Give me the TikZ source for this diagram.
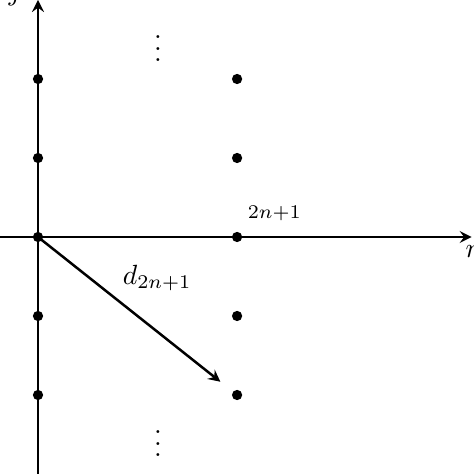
\documentclass[tikz,border=0pt]{standalone}
\usepackage{tikz}
\begin{document}
\begin{tikzpicture}[line width=0.9pt,>=stealth] % [1]{-0.48}{5.52}{-3}{3}
   \useasboundingbox (-0.481,-3.0) rectangle (5.519,3.0);
   \clip (-0.481,-3.0) rectangle (5.519,3.0);
   \coordinate (o) at (0,0);
   \coordinate (xs) at (-0.7,0);
   \coordinate (xe) at (5.49,0);
   \coordinate (ys) at (0,-3.3);
   \coordinate (ye) at (0,3.0);
   \coordinate (q) at (2.52,-2.0);
   \draw[->] (xs) -- (xe);
   \draw[->] (ys) -- (ye);
   \fill (0,2.0) circle(0.065);
   \fill (0,1.0) circle(0.065);
   \fill (o) circle(0.065);
   \fill (0,-1.0) circle(0.065);
   \fill (0,-2.0) circle(0.065);
   \fill (2.52,2.0) circle(0.065);
   \fill (2.52,1.0) circle(0.065);
   \fill (2.52,0.0) circle(0.065);
   \fill (2.52,-1.0) circle(0.065);
   \fill (q) circle(0.065);
   \draw[->,shorten >=0.27cm] (o) -- (q);
   \draw (-0.29,3.08) node (j) {$j$};
   \draw (5.52,-0.19) node (n) {$n$};
   \draw (2.99,0.30) node (lab) {$\scriptstyle 2n+1$};
   \draw (1.51,-0.52) node (d) {$d_{2n+1}$};
   \draw (1.52,2.49) node (vt) {$\vdots$};
   \draw (1.52,-2.51) node (vb) {$\vdots$};
\end{tikzpicture}
\end{document}
